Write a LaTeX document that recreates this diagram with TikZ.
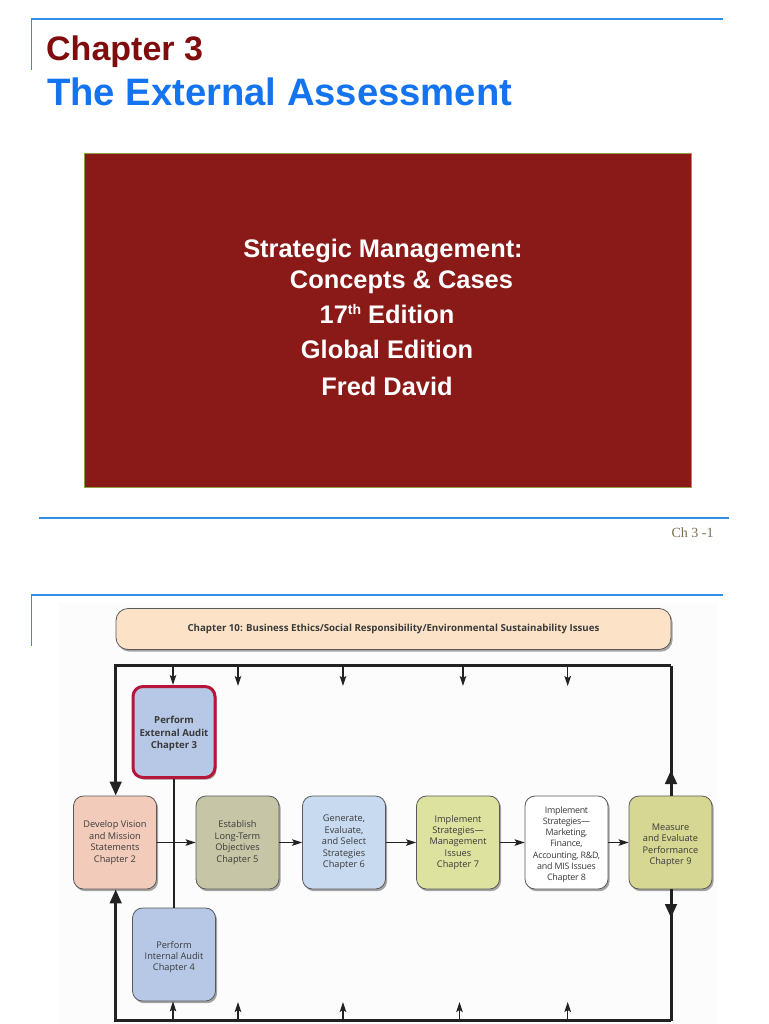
\documentclass[tikz,border=0pt]{standalone}
\usepackage{fontspec}
\setmainfont{Liberation Sans}
\newfontfamily\figfont{Open Sans}
\newfontfamily\pagefont{Liberation Serif}
\usetikzlibrary{arrows.meta,shadows}
\definecolor{ruleblue}{HTML}{2F8FE3}
\definecolor{chapred}{HTML}{7F0D0D}
\definecolor{titleblue}{HTML}{1474F0}
\definecolor{boxred}{HTML}{8A1A18}
\definecolor{boxedge}{HTML}{8FA040}
\definecolor{pagenum}{HTML}{7A7050}
\definecolor{figbg}{HTML}{FCFCFC}
\definecolor{banner}{HTML}{FCE3C8}
\definecolor{audit}{HTML}{B6C8E6}
\definecolor{auditred}{HTML}{B5173A}
\definecolor{vision}{HTML}{F2CBBB}
\definecolor{objective}{HTML}{C6C6A6}
\definecolor{generate}{HTML}{C8DAF0}
\definecolor{mgmt}{HTML}{DEE29F}
\definecolor{measure}{HTML}{D5D793}
\definecolor{inkline}{HTML}{222222}
\definecolor{figtext}{HTML}{3A3A3A}
\newcommand{\lowtext}[1]{\rule{0pt}{#1pt}}
\tikzset{
  x=1pt,y=-1pt,
  rulefat/.style={draw=ruleblue,line width=1.6pt},
  rulethin/.style={draw=ruleblue,line width=0.8pt},
  redline/.style={font=\fontsize{25.4}{28}\selectfont\bfseries,text=white,inner sep=0pt,anchor=base},
  flowbox/.style={draw=black!65,line width=0.8pt,rounded corners=10pt,minimum width=83pt,minimum height=93pt,
    inner sep=0pt,align=center,text=figtext,font=\figfont\fontsize{9.2}{11.4}\selectfont,
    drop shadow={shadow xshift=1.6pt,shadow yshift=-2.2pt,opacity=.35,fill=black}},
  loopline/.style={draw=inkline,line width=3pt},
  bigarrow/.style={draw=inkline,line width=3pt,-{Triangle[width=11.5pt,length=14pt]}},
  smallarrow/.style={draw=inkline,line width=1.1pt,-{Stealth[width=6.5pt,length=10pt,inset=2pt]}},
  steparrow/.style={draw=inkline,line width=1.2pt,-{Stealth[width=6.5pt,length=10pt,inset=2pt]}},
}
\begin{document}
\begin{tikzpicture}
\useasboundingbox (0,0) rectangle (768,1024);
\fill[white] (0,0) rectangle (768,1024);
% first slide
\draw[rulefat] (31,19) -- (723,19);
\draw[rulethin] (31,19) -- (31,70);
\node[inner sep=0pt,anchor=base west,text=chapred,font=\fontsize{34}{36}\selectfont\bfseries] (chap) at (46,60.5) {Chapter 3};
\node[inner sep=0pt,anchor=base west,text=titleblue,font=\fontsize{38.2}{40}\selectfont\bfseries] (title) at (47,106) {The External Assessment};
\node[fill=boxred,draw=boxedge,line width=0.8pt,minimum width=607pt,minimum height=334pt,inner sep=0pt] (cover) at (387.5,320) {};
\node[redline] (l1) at (383,257) {Strategic Management:};
\node[redline] (l2) at (401.5,288) {Concepts \& Cases};
\node[redline] (l3) at (387,323) {17\raisebox{8.5pt}{\fontsize{14}{14}\selectfont th} Edition};
\node[redline] (l4) at (387,358) {Global Edition};
\node[redline] (l5) at (387,395) {Fred David};
\draw[rulefat] (39,518) -- (729,518);
\node[inner sep=0pt,anchor=base,text=pagenum,font=\pagefont\fontsize{14}{16}\selectfont] (pg) at (692.5,537) {Ch 3 -1};
% second slide
\draw[rulefat] (31,595) -- (723,595);
\draw[rulethin] (31,595) -- (31,646);
\fill[figbg] (58,603) rectangle (717,1024);
\node[draw=black!65,line width=0.8pt,fill=banner,rounded corners=12pt,minimum width=555pt,minimum height=41pt,inner sep=0pt,
  font=\figfont\fontsize{9.7}{12}\selectfont\bfseries,text=figtext,
  drop shadow={shadow xshift=1.6pt,shadow yshift=-2.2pt,opacity=.35,fill=black}] (ethics) at (393.5,629) {Chapter 10: Business Ethics/Social Responsibility/Environmental Sustainability Issues};
\node[flowbox,fill=audit,draw=auditred,line width=3pt,minimum width=82pt,minimum height=91pt,font=\figfont\fontsize{9.6}{12.2}\selectfont\bfseries] (ext) at (174,732) {\lowtext{10.5}Perform\\External Audit\\Chapter 3};
\node[flowbox,fill=vision] (vis) at (115,842.5) {Develop Vision\\and Mission\\Statements\\Chapter 2};
\node[flowbox,fill=objective] (obj) at (237.5,842.5) {Establish\\Long-Term\\Objectives\\Chapter 5};
\node[flowbox,fill=generate] (gen) at (344,842.5) {Generate,\\Evaluate,\\and Select\\Strategies\\Chapter 6};
\node[flowbox,fill=mgmt] (imp) at (458,842.5) {Implement\\Strategies—\\Management\\Issues\\Chapter 7};
\node[flowbox,fill=white,font=\figfont\fontsize{8.9}{11.2}\selectfont\addfontfeatures{LetterSpace=-3}] (mkt) at (566.5,842.5) {\lowtext{11}Implement\\Strategies—\\Marketing,\\Finance,\\Accounting, R\&D,\\and MIS Issues\\Chapter 8};
\node[flowbox,fill=measure] (eval) at (670.5,842.5) {\lowtext{12}Measure\\and Evaluate\\Performance\\Chapter 9};
\node[flowbox,fill=audit] (int) at (174,954.5) {\lowtext{12}Perform\\Internal Audit\\Chapter 4};
% loop corners
\coordinate (tl) at (115.7,665.5);
\coordinate (tr) at (671,665.5);
\coordinate (bl) at (115.7,1020.5);
\coordinate (br) at (671,1020.5);
\coordinate (upmid) at (671,770);
\coordinate (downmid) at (671,918);
\draw[bigarrow] (tr) -- (tl) -- (vis.north -| tl);
\draw[bigarrow] (br) -- (bl) -- (vis.south -| bl);
\draw[loopline] (tr) -- (eval.north -| tr);
\draw[loopline] (br) -- (eval.south -| br);
\draw[bigarrow] (eval.north -| tr) -- (upmid);
\draw[bigarrow] (eval.south -| br) -- (downmid);
% small arrows from the loop
\foreach \n/\xx in {a/238,b/343,c/463,d/567.7}{
  \coordinate (top\n) at (\xx,665.5);
  \coordinate (topend\n) at (\xx,686);
  \draw[smallarrow] (top\n) -- (topend\n);
}
\foreach \n/\xx in {a/238,b/343,c/459.5,d/567.7}{
  \coordinate (bot\n) at (\xx,1020.5);
  \coordinate (botend\n) at (\xx,1002);
  \draw[smallarrow] (bot\n) -- (botend\n);
}
\coordinate (topx) at (173,665.5);
\coordinate (botx) at (173,1020.5);
\draw[smallarrow] (topx) -- (ext.north -| topx);
\draw[smallarrow] (botx) -- (int.south -| botx);
% audit link and process arrows
\draw[draw=inkline,line width=1.1pt] (ext.south) -- (int.north);
\draw[steparrow] (vis) -- (obj);
\draw[steparrow] (obj) -- (gen);
\draw[steparrow] (gen) -- (imp);
\draw[steparrow] (imp) -- (mkt);
\draw[steparrow] (mkt) -- (eval);
\end{tikzpicture}
\end{document}
